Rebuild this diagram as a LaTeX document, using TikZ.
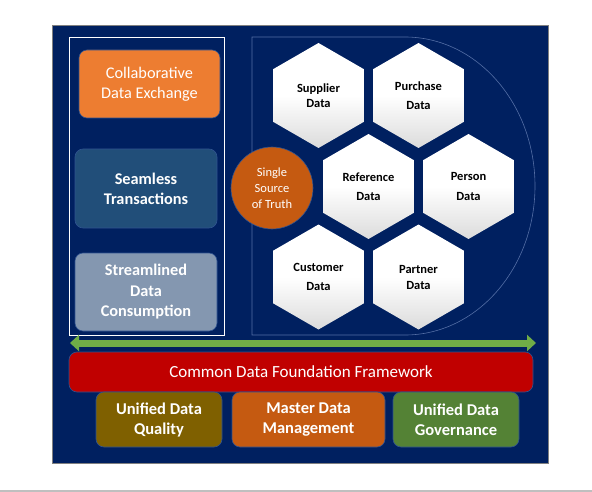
\documentclass[tikz,border=0pt]{standalone}
\usepackage{fontspec}
\setmainfont{Carlito}
\definecolor{cdnavy}{RGB}{0,32,96}
\definecolor{cdorange}{RGB}{237,125,49}
\definecolor{cdsteel}{RGB}{33,78,121}
\definecolor{cdslate}{RGB}{132,151,176}
\definecolor{cdrust}{RGB}{197,90,17}
\definecolor{cdred}{RGB}{192,0,0}
\definecolor{cdgold}{RGB}{127,96,0}
\definecolor{cdgreen}{RGB}{84,130,53}
\definecolor{cdlime}{RGB}{112,173,71}
\definecolor{cdedge}{RGB}{47,82,143}
\definecolor{cdframe}{RGB}{84,110,165}
\usetikzlibrary{
  arrows.meta,
  positioning,
  shapes.geometric
}

\begin{document}
\begin{tikzpicture}[
  x=1pt, y=-1pt,
  tile/.style={
    draw=cdedge, line width=0.6pt, rounded corners=8pt,
    text=white, align=center, inner sep=0pt
  },
  hexa/.style={
    regular polygon, regular polygon sides=6, shape border rotate=30,
    minimum size=105pt, inner sep=0pt, align=center,
    top color=white, bottom color=black!14, middle color=white,
    font=\bfseries\fontsize{12.5}{19.5}\selectfont
  },
  flow/.style={
    {Triangle[width=16pt,length=9pt]}-{Triangle[width=16pt,length=9pt]},
    line width=7pt, cdlime
  },
]
\useasboundingbox (0,0) rectangle (592,492);

% backdrop and frames
\fill[cdnavy, draw=black!50, line width=0.8pt] (52,25) rectangle (548,463);
\draw[black!25, line width=1.2pt] (0,491) -- (592,491);
\draw[white, line width=0.8pt] (69,37) rectangle (224,335);
\draw[cdframe, line width=0.6pt] (252,37) -- (405,37)
  arc[start angle=90, end angle=-90, x radius=130, y radius=-149] -- (252,335) -- cycle;

% left column
\node[tile, fill=cdorange, minimum width=141pt, minimum height=68pt,
  font=\fontsize{16.3}{20}\selectfont]
  (exch) at (149.5,84) {Collaborative\\Data Exchange};
\node[tile, fill=cdsteel, minimum width=142pt, minimum height=79pt,
  font=\bfseries\fontsize{16.3}{20}\selectfont]
  (trans) at (146,188.5) {Seamless\\Transactions};
\node[tile, fill=cdslate, minimum width=142pt, minimum height=78pt,
  font=\bfseries\fontsize{16.3}{20.5}\selectfont]
  (cons) at (146,292) {Streamlined\\Data\\Consumption};

% single source of truth
\node[circle, fill=cdrust, draw=cdedge, line width=0.6pt, minimum size=82pt,
  inner sep=0pt, text=white, align=center, font=\fontsize{12.5}{16}\selectfont]
  (sst) at (272,188) {Single\\Source\\of Truth};

% data domains
\node[hexa, font=\bfseries\fontsize{12.5}{15.5}\selectfont]
  (supp) at (318.5,95.5) {Supplier\\Data};
\node[hexa] (purch) at (418.5,95.5) {Purchase\\Data};
\node[hexa] (ref) at (368.5,186.5) {Reference\\Data};
\node[hexa] (pers) at (468.5,186.5) {Person\\Data};
\node[hexa] (cust) at (318.5,277) {Customer\\Data};
\node[hexa, font=\bfseries\fontsize{12.5}{16}\selectfont]
  (part) at (418.5,277) {Partner\\Data};

% foundation
\coordinate (al) at (70,343);
\coordinate (ar) at (536,343);
\draw[flow] (al) -- (ar);
\node[tile, fill=cdred, minimum width=464pt, minimum height=40pt,
  font=\fontsize{17}{20}\selectfont]
  (cdf) at (301,372) {Common Data Foundation Framework};

\node[tile, fill=cdgold, minimum width=126pt, minimum height=55pt,
  font=\bfseries\fontsize{16.5}{20}\selectfont]
  (udq) at (159,419.5) {Unified Data\\Quality};
\node[tile, fill=cdrust, minimum width=153pt, minimum height=55pt,
  font=\bfseries\fontsize{16.5}{20}\selectfont]
  (mdm) at (308.5,419.5) {Master Data\\Management};
\node[tile, fill=cdgreen, minimum width=126pt, minimum height=55pt,
  font=\bfseries\fontsize{16.5}{20}\selectfont]
  (udg) at (456,419.5) {Unified Data\\Governance};

\end{tikzpicture}
\end{document}
